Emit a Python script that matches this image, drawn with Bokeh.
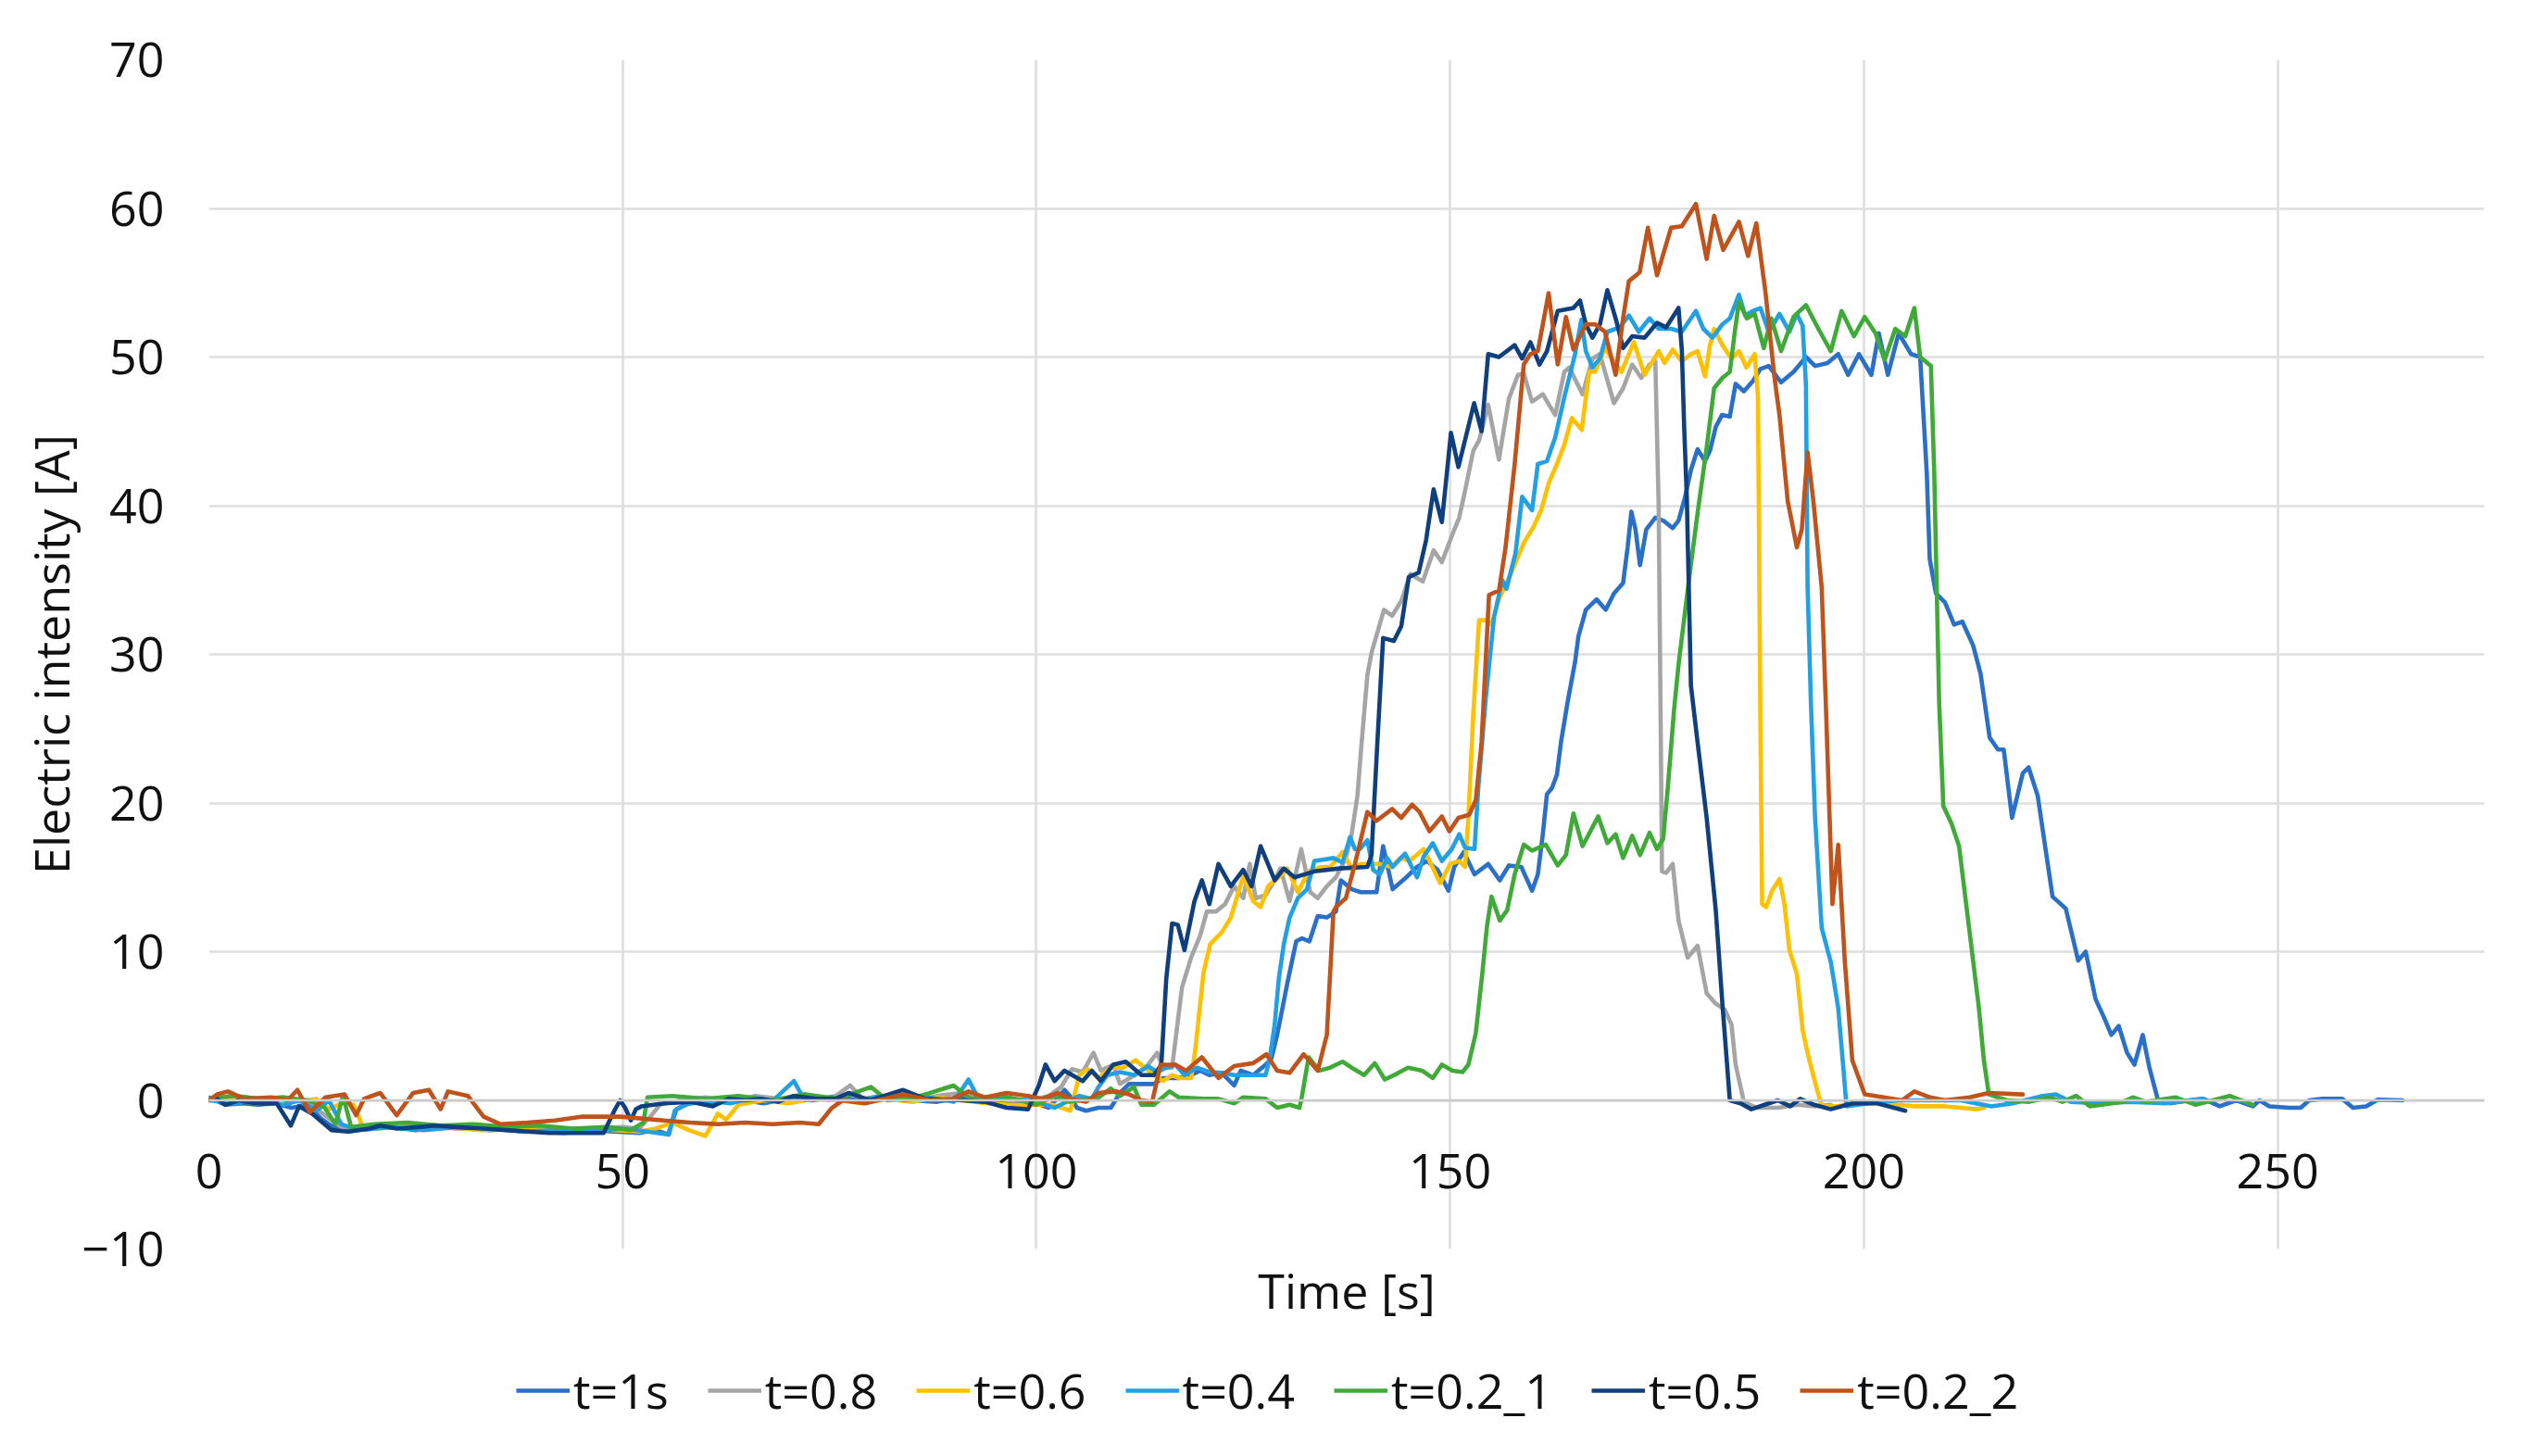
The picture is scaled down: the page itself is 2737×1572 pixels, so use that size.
import numpy as np
from bokeh.plotting import figure
from bokeh.layouts import column
from bokeh.models import Range1d, FixedTicker, Legend, LegendItem, Span
from bokeh.embed import file_html
from bokeh.resources import INLINE

FONT = "Open Sans"

# ---------------- data ----------------
names = ["t=1s", "t=0.8", "t=0.6", "t=0.4", "t=0.2_1", "t=0.5", "t=0.2_2"]
colors = ["#2A6FC8", "#A5A5A5", "#FFC000", "#22A0E3", "#40AA38", "#0F3F7D", "#C0531B"]

x_ticks = [0, 50, 100, 150, 200, 250]
y_ticks = [-10, 0, 10, 20, 30, 40, 50, 60, 70]

t1s_t = [0, 2, 4, 6, 8, 10, 12, 13.5, 15, 17, 19, 22, 25, 28, 31, 34, 37, 40, 43, 46, 49, 52, 54, 55.5, 56.5, 58, 61, 64, 67, 70, 73, 76, 79, 82, 85, 88, 91, 94, 97,
         100, 101.5, 103.4, 104.2, 104.9, 106, 107.5, 109, 110.1, 111.2, 113, 114.2, 115.3, 117.2, 118.7, 119.8, 120.9, 122.4, 123.9, 124.7, 126.2, 127.7, 128.4, 129.1, 130.3, 131.4, 132.1, 133, 134, 135.1, 136.2, 136.8, 138.1, 139.2, 140.25, 141.1, 141.9, 143.05, 144.7, 146.0, 147.2, 148.5, 149.8, 150.5, 151.65, 152.95, 154.6, 156, 157.1, 158.6, 159.9, 160.6, 161.2, 161.7, 162.3, 162.9, 163.4, 164.2, 165.1, 165.5, 166.4, 167.7, 168.8, 169.8, 170.9, 171.45, 171.9, 172.4, 172.95, 173.7, 174.8, 175.75, 176.9, 177.6, 178.4, 179.1, 179.9, 180.8, 181.4, 182.1, 182.85, 183.8, 184.5, 185.5, 186.6, 187.5, 188.5, 190.0, 191.5, 193, 194.1, 195.6, 196.9, 198.1, 199.4, 200.9, 201.8, 202.9, 204.2, 205.7, 206.8, 207.6, 207.96, 208.7, 209.8, 210.9, 211.9, 213.2, 214.1, 215.2, 216.2, 216.9, 217.9, 219.2, 219.9, 221.0, 222.8, 224.4, 225.9, 226.8, 228.0, 229.0, 229.9, 230.8, 231.8, 232.7, 233.7, 234.5, 235.5, 237, 239.3, 241, 243, 245, 247, 247.8, 249, 251.4, 252.8, 253.8, 255.4, 257.8, 259.1, 260.7, 262.1, 265.1]
t1s_i = [0.2, -0.3, -0.2, -0.3, -0.2, -0.5, -0.3, -1.2, -1.8, -2.1, -1.9, -1.8, -2.0, -1.8, -1.9, -2.0, -1.9, -2.1, -2.2, -2.0, -2.1, -2.2, -2.0, -2.3, -0.6, -0.2, -0.1, 0.1, -0.2, 0.1, 0.0, 0.3, -0.1, 0.2, 0.0, -0.1, 0.2, 0.0, -0.2,
         -0.2, -0.5, 0.7, 0.2, -0.5, -0.7, -0.5, -0.5, 0.5, 1.1, 1.1, 1.1, 1.5, 1.5, 1.7, 2.0, 1.7, 1.85, 1.0, 2.0, 1.7, 2.4, 2.8, 4.4, 7.8, 10.7, 10.9, 10.7, 12.4, 12.3, 12.7, 14.8, 14.2, 14.0, 14.0, 14.0, 17.1, 14.2, 15.0, 15.7, 16.1, 15.5, 14.1, 15.7, 16.7, 15.2, 15.9, 14.8, 15.8, 15.7, 14.1, 15.2, 17.9, 20.6, 21.0, 21.9, 24.1, 26.8, 29.5, 31.2, 33.0, 33.7, 33.0, 34.1, 34.8, 37.2, 39.6, 38.4, 36.0, 38.4, 39.2, 39.0, 38.5, 39.0, 40.6, 42.4, 43.8, 43.0, 43.7, 45.3, 46.1, 46.0, 48.2, 47.7, 48.4, 49.2, 49.4, 48.3, 49.0, 50.0, 49.4, 49.6, 50.2, 48.8, 50.2, 48.8, 51.6, 48.8, 51.6, 50.2, 50.0, 42.2, 36.4, 34.1, 33.5, 32.0, 32.2, 30.6, 28.7, 24.4, 23.6, 23.6, 19.0, 22.0, 22.4, 20.5, 13.7, 12.9, 9.4, 10.0, 6.8, 5.6, 4.4, 5.0, 3.2, 2.4, 4.4, 2.2, 0.1, -0.2, 0.0, 0.1, -0.4, 0.0, -0.4, 0.0, -0.4, -0.5, -0.5, 0.0, 0.1, 0.1, -0.5, -0.4, 0.05, 0.0]

t08_t = [0, 3, 6, 9, 12, 14, 16, 20, 25, 30, 35, 40, 45, 50, 52, 53.5, 54.5, 57, 60, 63, 66, 69, 72, 75, 77.5, 79, 82, 85, 88, 91, 94, 97,
         100, 101.5, 103, 104.3, 105.6, 106.9, 107.8, 109.3, 110.1, 111.9, 113.5, 114.6, 115.3, 116.4, 117, 117.6, 118.7, 119.8, 120.6, 121.7, 122.8, 123.9, 125, 125.8, 126.5, 127.7, 128.8, 129.5, 130.6, 132, 133.1, 134, 135.1, 136.2, 137.4, 138.1, 138.8, 139.3, 140.0, 140.5, 142.0, 143.0, 144.1, 145.2, 146.7, 148.0, 149.0, 150.3, 151.1, 151.8, 152.8, 153.5, 154.6, 155.9, 157.1, 158.2, 158.9, 159.9, 161.2, 162.7, 163.8, 164.4, 166.0, 167.2, 168.1, 169.8, 170.9, 172, 173.1, 174.1, 174.8, 175.2, 175.5, 175.6, 176.1, 176.9, 177.6, 178.7, 179.9, 181.0, 182.1, 183.2, 184.0, 184.5, 185.5, 187, 189.6, 192, 194, 196]
t08_i = [0.1, 0.3, 0.1, 0.2, -0.1, -1.0, -1.8, -1.9, -1.7, -1.9, -1.8, -2.0, -1.9, -1.8, -1.9, -1.0, -0.3, 0.0, 0.2, -0.1, 0.3, 0.1, 0.4, 0.0, 1.0, 0.1, 0.3, -0.1, 0.3, 0.5, 0.2, 0.0,
         0.1, 0.3, 0.9, 2.1, 1.9, 3.2, 2.0, 2.4, 1.1, 1.7, 2.4, 3.2, 2.2, 2.2, 4.9, 7.6, 9.6, 11.1, 12.7, 12.7, 13.2, 14.4, 13.6, 15.9, 13.6, 13.8, 14.8, 15.6, 13.4, 16.9, 14.0, 13.6, 14.4, 15.0, 16.3, 17.9, 20.5, 24.0, 28.6, 30.1, 33.0, 32.6, 33.6, 35.4, 34.9, 37.0, 36.2, 38.1, 39.2, 41.0, 43.7, 44.4, 46.8, 43.1, 47.2, 48.8, 48.9, 47.0, 47.5, 46.1, 49.0, 49.3, 47.5, 49.9, 50.2, 46.9, 47.9, 49.5, 48.6, 49.5, 49.7, 40.0, 22.0, 15.4, 15.3, 15.9, 12.1, 9.6, 10.4, 7.2, 6.5, 6.1, 5.1, 2.4, -0.1, -0.5, -0.5, -0.3, -0.4, -0.3]

t06_t = [0, 3, 6, 9, 11, 13, 14.5, 16, 17.5, 18.75, 21, 25, 29, 33, 37, 41, 45, 49, 52, 54, 56, 58, 60, 61.5, 62.5, 64, 67, 70, 73, 76, 79, 82, 85, 88, 91, 94, 97,
         100, 102, 104.1, 105.2, 106.2, 107.5, 109.0, 110.5, 112, 113.1, 114.2, 115.3, 116.4, 117.2, 118.7, 119.2, 120.2, 121, 122.4, 123.5, 124.3, 125, 126.2, 127.1, 128, 129.3, 130.3, 131.6, 132.9, 134.4, 135.5, 137, 138.1, 139.2, 140.3, 141.4, 142.9, 144, 145.1, 146.8, 147.5, 148.8, 150, 151.1, 151.8, 152.2, 152.8, 153.5, 154.3, 155.0, 155.9, 157.4, 158.9, 160.1, 161, 161.9, 162.9, 163.8, 164.7, 165.9, 166.4, 166.8, 167.5, 168.7, 169.8, 170.7, 172.2, 173.5, 175.2, 175.9, 176.9, 178, 179.1, 179.9, 180.8, 181.4, 181.9, 182.9, 184, 184.9, 185.8, 186.8, 187.2, 187.5, 187.7, 188.2, 188.9, 189.8, 190.4, 191.0, 191.9, 192.6, 193.4, 194.3, 194.9, 196.7, 198.6, 202.4, 206.1, 209.8, 213.6, 214.5]
t06_i = [0.1, 0.0, -0.2, 0.1, -0.1, 0.1, -0.6, -0.2, -0.3, -2.0, -1.8, -1.9, -1.8, -2.0, -1.9, -2.0, -1.9, -2.0, -2.1, -1.9, -1.5, -2.0, -2.4, -0.9, -1.3, -0.3, 0.0, -0.2, 0.1, 0.0, -0.2, 0.1, -0.1, 0.2, 0.0, -0.2, -0.3,
         -0.3, -0.3, -0.7, 1.7, 2.1, 1.5, 2.2, 2.2, 2.7, 2.2, 1.7, 1.3, 1.7, 1.5, 1.5, 3.4, 8.6, 10.5, 11.3, 12.3, 13.8, 15.1, 13.4, 13.0, 14.4, 15.0, 15.6, 14.0, 15.4, 15.7, 15.7, 16.7, 15.6, 15.9, 15.9, 15.9, 15.7, 16.3, 16.1, 16.9, 16.1, 14.6, 15.9, 16.1, 15.7, 19.0, 26.0, 32.3, 32.3, 32.0, 33.7, 35.5, 37.5, 38.6, 39.7, 41.5, 42.8, 44.1, 45.9, 45.1, 47.3, 49.0, 49.0, 50.6, 49.7, 49.0, 51.0, 48.8, 50.4, 49.6, 50.5, 49.7, 50.2, 50.4, 48.7, 50.8, 51.9, 50.8, 49.9, 50.4, 49.3, 50.2, 47.3, 25.0, 13.2, 13.0, 14.1, 14.9, 13.2, 10.1, 8.5, 4.7, 2.7, 0.8, -0.4, -0.4, -0.2, -0.2, -0.4, -0.4, -0.6, -0.5]

t04_t = [0, 3, 6, 9, 11, 13, 14.5, 16, 18, 22, 26, 30, 34, 38, 42, 46, 50, 53, 55.6, 56.3, 57.5, 60, 63, 66, 68, 70.7, 72, 75, 78, 81, 84, 87, 90, 91.8, 93, 96,
         100, 102.2, 104, 105.2, 106.7, 107.5, 108.6, 110.1, 111.9, 113.5, 114.6, 115.7, 116.8, 117.9, 119.4, 120.9, 122.4, 123.9, 126.2, 127.7, 128.2, 128.8, 129.3, 129.9, 130.6, 131.6, 132.7, 133.6, 134.8, 135.9, 137, 137.9, 138.5, 139.1, 140, 140.7, 141.5, 142.4, 143.05, 144.55, 146.0, 146.8, 147.9, 149.0, 150.2, 151.1, 151.8, 152.95, 153.4, 154.3, 155.3, 156.3, 156.8, 157.9, 158.7, 159.9, 160.6, 161.7, 162.7, 163.8, 165.1, 165.85, 166.4, 167.2, 168.1, 169, 170.5, 171.6, 172.8, 174.1, 175.2, 176.7, 178, 179.7, 180.6, 181.7, 182.9, 183.8, 184.9, 185.65, 186.6, 187.5, 188.5, 189.8, 191, 191.9, 192.6, 193, 193.2, 193.6, 194.1, 194.9, 196, 196.9, 197.5, 197.9, 200.5, 204.2, 208, 211.7, 215.4, 218, 221.6, 223.2, 225, 228.5, 232.2, 236.5, 241]
t04_i = [0.0, -0.2, 0.0, -0.3, 0.0, -0.7, 0.0, -1.6, -2.0, -1.8, -2.0, -1.8, -1.9, -2.1, -2.0, -2.1, -1.9, -2.1, -2.3, -0.7, -0.3, 0.0, -0.2, 0.2, -0.1, 1.3, 0.0, 0.2, -0.1, 0.3, 0.0, 0.2, -0.1, 1.4, 0.1, 0.2,
         -0.1, -0.5, 0.0, 0.3, 0.1, 0.9, 1.7, 1.9, 1.7, 2.3, 1.9, 2.2, 2.4, 1.7, 2.2, 1.9, 1.85, 1.7, 1.7, 1.7, 2.8, 5.1, 8.2, 10.5, 12.3, 13.6, 14.2, 16.1, 16.2, 16.3, 16.0, 17.7, 16.9, 16.9, 17.5, 15.5, 15.2, 16.3, 15.7, 16.6, 15.0, 16.4, 17.3, 16.1, 16.9, 17.9, 17.0, 16.9, 21.0, 27.0, 32.5, 35.0, 34.4, 36.8, 40.6, 39.7, 42.8, 43.0, 44.6, 47.3, 50.2, 52.5, 50.4, 49.3, 49.9, 51.7, 52.0, 52.8, 51.7, 52.6, 51.9, 51.9, 51.7, 53.1, 51.9, 51.3, 52.2, 52.6, 54.2, 52.8, 53.1, 53.3, 51.7, 52.9, 51.7, 52.9, 52.1, 48.1, 34.5, 26.7, 19.0, 11.6, 9.3, 6.2, 2.3, -0.4, -0.2, 0.0, 0.0, 0.0, -0.4, -0.2, 0.3, 0.4, -0.1, -0.2, -0.1, -0.2, 0.1]

t021_t = [0, 3, 6, 9, 12, 14, 15.3, 16.2, 17.2, 20, 24, 28, 32, 36, 40, 44, 48, 51, 52.5, 53, 56, 60, 64, 68, 72, 76, 80, 82, 86, 90, 92, 96,
          100, 102.2, 104, 106.2, 107.3, 109, 110.1, 111.8, 112.7, 114.2, 116.1, 117.2, 120.2, 122, 123.9, 125, 127.7, 129.1, 130.6, 131.8, 132.1, 132.9, 134.2, 135.5, 137, 138.1, 139.6, 140.9, 142.1, 143.6, 144.9, 146.6, 147.9, 149, 150.3, 151.5, 152.2, 153.1, 153.9, 154.45, 155, 156, 156.9, 157.8, 158.9, 159.9, 161.55, 163.0, 164, 164.9, 166.0, 167.9, 169, 170, 170.9, 172, 172.95, 174.1, 175.0, 175.75, 176.3, 177.05, 177.6, 178.7, 179.9, 181.0, 181.9, 182.9, 183.8, 184.4, 184.9, 185.85, 186.8, 187.9, 188.8, 190, 191.5, 193.0, 194.5, 196.0, 197.3, 198.8, 200.1, 201.4, 202.5, 203.8, 205, 206.1, 206.8, 208.1, 208.5, 209.1, 209.6, 210.6, 211.5, 212.8, 213.9, 214.5, 215.1, 217.3, 220, 222.4, 224, 225.65, 227.3, 231.3, 232.5, 234.1, 237.7, 240.1, 244.2, 247]
t021_i = [0.1, 0.3, 0.1, 0.2, 0.0, -0.5, -1.6, 0.3, -1.8, -1.6, -1.5, -1.7, -1.6, -1.8, -1.7, -1.9, -1.8, -2.0, -1.5, 0.2, 0.3, 0.1, 0.3, 0.0, 0.4, 0.1, 0.9, 0.0, 0.3, 1.0, 0.1, 0.3,
          -0.3, 0.3, -0.1, 0.1, 0.1, 0.8, 0.3, 0.9, -0.3, -0.3, 0.6, 0.2, 0.1, 0.1, -0.2, 0.2, 0.1, -0.5, -0.3, -0.5, 0.3, 2.9, 2.0, 2.2, 2.6, 2.2, 1.7, 2.5, 1.4, 1.8, 2.2, 2.0, 1.5, 2.4, 2.0, 1.9, 2.4, 4.5, 8.6, 11.7, 13.7, 12.1, 12.8, 15.2, 17.2, 16.8, 17.2, 15.8, 16.5, 19.3, 17.1, 19.1, 17.3, 17.9, 16.3, 17.8, 16.5, 18.0, 16.9, 17.6, 21.0, 26.2, 29.3, 34.3, 39.5, 43.9, 47.9, 48.6, 49.0, 51.7, 53.7, 52.6, 52.9, 50.6, 52.6, 50.4, 52.7, 53.5, 51.9, 50.4, 53.1, 51.4, 52.7, 51.6, 49.8, 51.9, 51.4, 53.3, 50.0, 49.4, 42.2, 26.7, 19.8, 18.6, 17.1, 11.2, 6.2, 2.7, 0.4, 0.0, -0.1, 0.2, -0.1, 0.3, -0.4, -0.1, 0.2, -0.1, 0.2, -0.3, 0.3, -0.3]

t05_t = [1.0, 2, 3.6, 5.6, 8.2, 9.9, 10.9, 12.5, 14.8, 16.8, 19.4, 20.7, 22.7, 25.3, 27.3, 29.9, 33.2, 35.9, 38.5, 41.1, 45, 47.7, 49.0, 49.7, 50.3, 51, 51.6, 52.3, 55, 58.2, 60.9, 62.8, 64.8, 66.8, 68.8, 70.7, 73.4, 75.7, 77.3, 79.9, 83.9, 86.6, 91.1, 93.8, 96.4, 99,
         100.3, 101.1, 102.2, 103.4, 105.6, 106.7, 107.8, 109.3, 110.8, 112.7, 114.2, 115.1, 115.7, 116.4, 117.1, 117.9, 119.1, 120, 120.9, 122, 123.5, 125, 126, 127.1, 128.8, 129.9, 131.2, 133.6, 136.6, 140.0, 140.5, 141.2, 141.9, 143.2, 144.1, 145.0, 146.2, 147.1, 148.0, 149.0, 150.1, 151.0, 152.9, 153.8, 154.6, 155.9, 157.8, 158.7, 159.7, 160.8, 161.7, 163.0, 164.9, 165.7, 166.4, 167.2, 168.1, 169, 170.1, 170.9, 172, 173.5, 175.0, 176.1, 177.6, 178.0, 178.3, 178.6, 179.1, 179.9, 181.0, 182.1, 182.9, 183.8, 185.1, 186.4, 188.5, 189.6, 191.1, 192.3, 194, 196, 198.6, 201.6, 205]
t05_i = [0.1, -0.3, 0.0, -0.2, -0.2, -1.7, -0.4, -0.9, -2.0, -2.1, -1.9, -1.7, -1.9, -1.8, -1.7, -1.8, -1.9, -2.0, -2.1, -2.2, -2.2, -2.2, -0.7, 0.0, -0.5, -1.35, -0.6, -0.4, -0.2, -0.1, -0.4, 0.1, 0.0, 0.1, -0.1, 0.3, 0.1, 0.1, 0.5, 0.0, 0.7, 0.1, 0.0, -0.1, -0.5, -0.6,
         1.0, 2.4, 1.3, 2.0, 1.3, 2.0, 1.3, 2.4, 2.6, 1.7, 1.7, 2.4, 8.2, 11.9, 11.8, 10.1, 13.4, 14.8, 13.2, 15.9, 14.4, 15.5, 14.4, 17.1, 14.8, 15.6, 15.0, 15.4, 15.6, 15.7, 16.5, 24.0, 31.1, 30.9, 31.9, 35.2, 35.5, 37.7, 41.1, 38.9, 44.9, 42.6, 46.9, 45.0, 50.2, 50.0, 50.8, 49.9, 51.0, 49.5, 50.4, 53.1, 53.3, 53.8, 52.2, 51.3, 52.2, 54.5, 52.4, 50.6, 51.4, 51.3, 52.3, 52.0, 53.3, 50.5, 45.0, 40.6, 27.9, 24.1, 19.0, 12.8, 6.5, 0.0, -0.2, -0.6, -0.2, 0.0, -0.4, 0.1, -0.3, -0.6, -0.2, -0.2, -0.7]

t022_t = [0, 1.0, 2.3, 4.3, 7.6, 9.5, 10.7, 12.2, 14.1, 16.4, 17.8, 18.75, 20.7, 22.7, 24.7, 26.6, 28.0, 28.9, 31.3, 33.2, 35.2, 38.5, 41.8, 45, 49.7, 55, 58.2, 61.5, 64.8, 68.1, 71.4, 73.7, 75.3, 76.6, 79.3, 83.9, 87.2, 89.8, 91.8, 93.8, 96.4,
          99, 100.7, 102.6, 104.1, 106, 107.5, 109.7, 111.2, 112.7, 114, 115, 116.8, 118.1, 120, 122.0, 123.9, 126.2, 127.8, 129.1, 130.6, 132.3, 134.0, 135.1, 135.9, 136.2, 137.4, 138.5, 140.0, 141.1, 143.0, 144.1, 145.4, 146.3, 147.5, 149.0, 149.9, 151.0, 152.3, 153.1, 153.8, 154.7, 155.9, 156.7, 157.8, 158.9, 159.7, 160.6, 161.9, 163.0, 164.0, 164.9, 166.4, 167.5, 168.7, 170.0, 170.9, 171.6, 172.9, 173.9, 175.0, 176.7, 178.0, 179.7, 181.0, 181.9, 183.0, 184.9, 186.0, 187.0, 188.1, 189.2, 189.8, 190.8, 191.9, 192.5, 193.2, 193.9, 194.9, 195.4, 196.2, 196.9, 197.7, 198.6, 200.1, 202.4, 204.6, 206.1, 208, 209.8, 212.8, 215.1, 219.2]
t022_i = [0.0, 0.4, 0.6, 0.1, 0.2, 0.0, 0.7, -0.8, 0.2, 0.4, -1.0, 0.1, 0.5, -1.0, 0.5, 0.7, -0.6, 0.6, 0.3, -1.1, -1.6, -1.5, -1.35, -1.1, -1.1, -1.35, -1.5, -1.6, -1.5, -1.6, -1.5, -1.6, -0.5, 0.0, -0.2, 0.4, 0.0, 0.1, 0.6, 0.2, 0.5,
          0.3, 0.1, 0.5, 0.1, -0.1, 0.5, 0.6, 0.4, 0.0, -0.1, 2.4, 2.4, 2.0, 2.9, 1.5, 2.3, 2.5, 3.1, 2.0, 1.85, 3.1, 2.0, 4.4, 12.7, 13.0, 13.6, 15.9, 19.4, 18.8, 19.6, 19.0, 19.9, 19.4, 18.1, 19.1, 18.1, 19.0, 19.2, 20.2, 24.1, 34.0, 34.3, 37.2, 42.8, 49.5, 50.2, 50.4, 54.3, 49.5, 52.7, 50.5, 52.2, 52.2, 51.7, 48.8, 52.6, 55.1, 55.7, 58.7, 55.5, 58.7, 58.8, 60.3, 56.6, 59.5, 57.2, 59.1, 56.8, 59.0, 54.4, 48.6, 46.1, 40.3, 37.2, 38.4, 43.6, 40.3, 34.5, 26.7, 13.2, 17.2, 9.3, 2.7, 0.4, 0.2, 0.0, 0.6, 0.2, 0.0, 0.2, 0.5, 0.4]

times = [t1s_t, t08_t, t06_t, t04_t, t021_t, t05_t, t022_t]
currents = [t1s_i, t08_i, t06_i, t04_i, t021_i, t05_i, t022_i]

LW = 4.6
TXT = "#111111"
BL, BR = 225, 39   # left / right borders shared by both strips

# ---------------- main chart ----------------
p = figure(width=2721, height=1455, x_range=Range1d(0, 275), y_range=Range1d(-10, 70),
           output_backend="svg", toolbar_location=None,
           min_border_left=BL, min_border_right=BR, min_border_top=64, min_border_bottom=107)
p.outline_line_color = None
p.background_fill_color = "white"
p.border_fill_color = "white"

GRID = "#DEDEDE"
p.xgrid.ticker = FixedTicker(ticks=x_ticks)
p.ygrid.ticker = FixedTicker(ticks=y_ticks)
p.xgrid.grid_line_color = GRID
p.ygrid.grid_line_color = GRID
p.xgrid.grid_line_width = 2.6
p.ygrid.grid_line_width = 2.6

# horizontal axis line crossing at 0
p.add_layout(Span(location=0, dimension="width", line_color="#CBCBCB", line_width=2.6))

xa = p.xaxis[0]
xa.ticker = FixedTicker(ticks=x_ticks)
xa.axis_line_color = None
xa.major_tick_line_color = None
xa.minor_tick_line_color = None
xa.major_tick_out = 0
xa.major_tick_in = 0
xa.major_label_standoff = -103
xa.major_label_text_font = FONT
xa.major_label_text_font_size = "52px"
xa.major_label_text_color = TXT
xa.axis_label = "Time [s]"
xa.axis_label_text_font = FONT
xa.axis_label_text_font_size = "52px"
xa.axis_label_text_font_style = "normal"
xa.axis_label_text_color = TXT
xa.axis_label_standoff = 71

ya = p.yaxis[0]
ya.ticker = FixedTicker(ticks=y_ticks)
ya.axis_line_color = None
ya.major_tick_line_color = None
ya.minor_tick_line_color = None
ya.major_tick_out = 0
ya.major_tick_in = 0
ya.major_label_standoff = 48
ya.major_label_overrides = {-10: "\u221210"}
ya.major_label_text_font = FONT
ya.major_label_text_font_size = "52px"
ya.major_label_text_color = TXT
ya.axis_label = "Electric intensity [A]"
ya.axis_label_text_font = FONT
ya.axis_label_text_font_size = "52px"
ya.axis_label_text_font_style = "normal"
ya.axis_label_text_color = TXT
ya.axis_label_standoff = -5

for t, v, c in zip(times, currents, colors):
    p.line(t, v, line_color=c, line_width=LW, line_join="round", line_cap="round")

# ---------------- legend strip ----------------
lg = figure(width=2721, height=100, x_range=Range1d(0, 1), y_range=Range1d(0, 1),
            output_backend="svg", toolbar_location=None,
            min_border_left=BL, min_border_right=BR, min_border_top=0, min_border_bottom=0)
lg.outline_line_color = None
lg.axis.visible = False
lg.xgrid.visible = False
lg.ygrid.visible = False
lg.background_fill_color = "white"
lg.border_fill_color = "white"

items = []
for name, c in zip(names, colors):
    # legend-only renderer: holds the style, draws nothing in the strip
    r = lg.line(x=np.array([np.nan]), y=np.array([np.nan]), line_color=c, line_width=LW)
    items.append(LegendItem(label=name, renderers=[r]))

legend = Legend(items=items, orientation="horizontal", location=(332, 19),
                label_text_font=FONT, label_text_font_size="52px", label_text_color=TXT,
                glyph_width=58, glyph_height=60, label_standoff=4, spacing=42,
                padding=0, margin=0, border_line_color=None, background_fill_alpha=0)
lg.add_layout(legend, "center")

layout = column(p, lg, spacing=0)
open("out.html", "w").write(file_html(layout, INLINE))
